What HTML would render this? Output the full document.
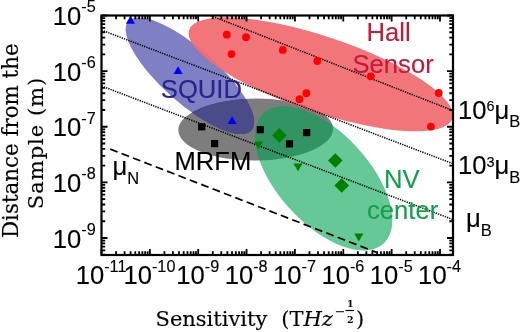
<!DOCTYPE html>
<html><head><meta charset="utf-8"><title>Sensitivity vs distance</title>
<style>html,body{margin:0;padding:0;background:#fff}svg{display:block}.s{font-family:"Liberation Sans",sans-serif}.r{font-family:"DejaVu Serif","Liberation Serif",serif}</style></head><body>
<svg width="520" height="332" viewBox="0 0 520 332">
<rect width="520" height="332" fill="#fff"/>
<defs><clipPath id="cp"><rect x="101.5" y="15.5" width="351.5" height="239.5"/></clipPath></defs>
<g clip-path="url(#cp)">
<ellipse cx="255.7" cy="129.6" rx="77.4" ry="31.0" transform="rotate(-0.5 255.7 129.6)" fill="#000" fill-opacity="0.51"/>
<ellipse cx="189.9" cy="75.8" rx="82.3" ry="27.5" transform="rotate(41.5 189.9 75.8)" fill="#000087" fill-opacity="0.5"/>
<clipPath id="cg"><ellipse cx="255.7" cy="129.6" rx="77.4" ry="31.0" transform="rotate(-0.5 255.7 129.6)"/></clipPath>
<g clip-path="url(#cg)"><ellipse cx="189.9" cy="75.8" rx="82.3" ry="27.5" transform="rotate(41.5 189.9 75.8)" fill="#4b4b8a"/></g>
<ellipse cx="320.8" cy="74.3" rx="138.9" ry="37.75" transform="rotate(18.6 320.8 74.3)" fill="#f16c72" fill-opacity="0.94"/>
<ellipse cx="323.6" cy="178.3" rx="88.7" ry="45.5" transform="rotate(47.4 323.6 178.3)" fill="#00a350" fill-opacity="0.6"/>
<line x1="210.50" y1="15.50" x2="453.00" y2="110.60" stroke="#000" stroke-width="1.5" stroke-dasharray="1.3 1.1"/>
<line x1="101.50" y1="30.10" x2="453.00" y2="163.70" stroke="#000" stroke-width="1.5" stroke-dasharray="1.3 1.1"/>
<line x1="101.50" y1="86.00" x2="453.00" y2="219.60" stroke="#000" stroke-width="1.5" stroke-dasharray="1.3 1.1"/>
<line x1="110.20" y1="149.10" x2="376.57" y2="252.40" stroke="#000" stroke-width="1.7" stroke-dasharray="7.9 4.3"/>
<circle cx="226.8" cy="34.7" r="3.9" fill="#f00"/>
<circle cx="246" cy="37.2" r="3.9" fill="#f00"/>
<circle cx="231.5" cy="54.1" r="3.9" fill="#f00"/>
<circle cx="282.8" cy="49.9" r="3.9" fill="#f00"/>
<circle cx="317.3" cy="61" r="3.9" fill="#f00"/>
<circle cx="306.4" cy="93.2" r="3.9" fill="#f00"/>
<circle cx="299.5" cy="99.2" r="3.9" fill="#f00"/>
<circle cx="370.8" cy="76.3" r="3.9" fill="#f00"/>
<circle cx="438.7" cy="93" r="3.9" fill="#f00"/>
<circle cx="430.9" cy="126.6" r="3.9" fill="#f00"/>
<polygon points="125.9,23.700000000000003 135.1,23.700000000000003 130.5,15.9" fill="#00f"/>
<polygon points="173.5,74.10000000000001 182.7,74.10000000000001 178.1,66.3" fill="#00f"/>
<polygon points="227.5,124.0 236.7,124.0 232.1,116.19999999999999" fill="#00f"/>
<rect x="198.1" y="123.2" width="7.2" height="7.2" fill="#000"/>
<rect x="211.0" y="140.0" width="7.2" height="7.2" fill="#000"/>
<rect x="256.7" y="126.1" width="7.2" height="7.2" fill="#000"/>
<rect x="285.9" y="140.3" width="7.2" height="7.2" fill="#000"/>
<rect x="303.09999999999997" y="129.0" width="7.2" height="7.2" fill="#000"/>
<polygon points="272.09999999999997,135.4 279.4,128.1 286.7,135.4 279.4,142.70000000000002" fill="#008000"/>
<polygon points="328.0,160.5 335.3,153.2 342.6,160.5 335.3,167.8" fill="#008000"/>
<polygon points="334.4,185.5 341.7,178.2 349.0,185.5 341.7,192.8" fill="#008000"/>
<polygon points="254.00000000000003,141.5 263.20000000000005,141.5 258.6,149.3" fill="#008000"/>
<polygon points="293.4,163.4 302.6,163.4 298,171.20000000000002" fill="#008000"/>
<polygon points="354.2,233.6 363.40000000000003,233.6 358.8,241.4" fill="#008000"/>
</g>
<path d="M101.50 255.0v-6.0M101.50 15.5v6.0M116.06 255.0v-3.7M116.06 15.5v3.7M124.57 255.0v-3.7M124.57 15.5v3.7M130.61 255.0v-3.7M130.61 15.5v3.7M135.30 255.0v-3.7M135.30 15.5v3.7M139.13 255.0v-3.7M139.13 15.5v3.7M142.37 255.0v-3.7M142.37 15.5v3.7M145.17 255.0v-3.7M145.17 15.5v3.7M147.64 255.0v-3.7M147.64 15.5v3.7M149.86 255.0v-6.0M149.86 15.5v6.0M164.41 255.0v-3.7M164.41 15.5v3.7M172.93 255.0v-3.7M172.93 15.5v3.7M178.97 255.0v-3.7M178.97 15.5v3.7M183.66 255.0v-3.7M183.66 15.5v3.7M187.49 255.0v-3.7M187.49 15.5v3.7M190.72 255.0v-3.7M190.72 15.5v3.7M193.53 255.0v-3.7M193.53 15.5v3.7M196.00 255.0v-3.7M196.00 15.5v3.7M198.21 255.0v-6.0M198.21 15.5v6.0M212.77 255.0v-3.7M212.77 15.5v3.7M221.29 255.0v-3.7M221.29 15.5v3.7M227.33 255.0v-3.7M227.33 15.5v3.7M232.01 255.0v-3.7M232.01 15.5v3.7M235.84 255.0v-3.7M235.84 15.5v3.7M239.08 255.0v-3.7M239.08 15.5v3.7M241.89 255.0v-3.7M241.89 15.5v3.7M244.36 255.0v-3.7M244.36 15.5v3.7M246.57 255.0v-6.0M246.57 15.5v6.0M261.13 255.0v-3.7M261.13 15.5v3.7M269.64 255.0v-3.7M269.64 15.5v3.7M275.69 255.0v-3.7M275.69 15.5v3.7M280.37 255.0v-3.7M280.37 15.5v3.7M284.20 255.0v-3.7M284.20 15.5v3.7M287.44 255.0v-3.7M287.44 15.5v3.7M290.24 255.0v-3.7M290.24 15.5v3.7M292.72 255.0v-3.7M292.72 15.5v3.7M294.93 255.0v-6.0M294.93 15.5v6.0M309.49 255.0v-3.7M309.49 15.5v3.7M318.00 255.0v-3.7M318.00 15.5v3.7M324.04 255.0v-3.7M324.04 15.5v3.7M328.73 255.0v-3.7M328.73 15.5v3.7M332.56 255.0v-3.7M332.56 15.5v3.7M335.80 255.0v-3.7M335.80 15.5v3.7M338.60 255.0v-3.7M338.60 15.5v3.7M341.07 255.0v-3.7M341.07 15.5v3.7M343.29 255.0v-6.0M343.29 15.5v6.0M357.84 255.0v-3.7M357.84 15.5v3.7M366.36 255.0v-3.7M366.36 15.5v3.7M372.40 255.0v-3.7M372.40 15.5v3.7M377.09 255.0v-3.7M377.09 15.5v3.7M380.91 255.0v-3.7M380.91 15.5v3.7M384.15 255.0v-3.7M384.15 15.5v3.7M386.96 255.0v-3.7M386.96 15.5v3.7M389.43 255.0v-3.7M389.43 15.5v3.7M391.64 255.0v-6.0M391.64 15.5v6.0M406.20 255.0v-3.7M406.20 15.5v3.7M414.72 255.0v-3.7M414.72 15.5v3.7M420.76 255.0v-3.7M420.76 15.5v3.7M425.44 255.0v-3.7M425.44 15.5v3.7M429.27 255.0v-3.7M429.27 15.5v3.7M432.51 255.0v-3.7M432.51 15.5v3.7M435.31 255.0v-3.7M435.31 15.5v3.7M437.79 255.0v-3.7M437.79 15.5v3.7M440.00 255.0v-6.0M440.00 15.5v6.0M101.5 254.74h3.7M453.0 254.74h-3.7M101.5 250.34h3.7M453.0 250.34h-3.7M101.5 246.62h3.7M453.0 246.62h-3.7M101.5 243.39h3.7M453.0 243.39h-3.7M101.5 240.55h3.7M453.0 240.55h-3.7M101.5 238.00h6.0M453.0 238.00h-6.0M101.5 221.26h3.7M453.0 221.26h-3.7M101.5 211.46h3.7M453.0 211.46h-3.7M101.5 204.51h3.7M453.0 204.51h-3.7M101.5 199.12h3.7M453.0 199.12h-3.7M101.5 194.72h3.7M453.0 194.72h-3.7M101.5 190.99h3.7M453.0 190.99h-3.7M101.5 187.77h3.7M453.0 187.77h-3.7M101.5 184.92h3.7M453.0 184.92h-3.7M101.5 182.38h6.0M453.0 182.38h-6.0M101.5 165.63h3.7M453.0 165.63h-3.7M101.5 155.84h3.7M453.0 155.84h-3.7M101.5 148.89h3.7M453.0 148.89h-3.7M101.5 143.49h3.7M453.0 143.49h-3.7M101.5 139.09h3.7M453.0 139.09h-3.7M101.5 135.37h3.7M453.0 135.37h-3.7M101.5 132.14h3.7M453.0 132.14h-3.7M101.5 129.30h3.7M453.0 129.30h-3.7M101.5 126.75h6.0M453.0 126.75h-6.0M101.5 110.01h3.7M453.0 110.01h-3.7M101.5 100.21h3.7M453.0 100.21h-3.7M101.5 93.26h3.7M453.0 93.26h-3.7M101.5 87.87h3.7M453.0 87.87h-3.7M101.5 83.47h3.7M453.0 83.47h-3.7M101.5 79.74h3.7M453.0 79.74h-3.7M101.5 76.52h3.7M453.0 76.52h-3.7M101.5 73.67h3.7M453.0 73.67h-3.7M101.5 71.12h6.0M453.0 71.12h-6.0M101.5 54.38h3.7M453.0 54.38h-3.7M101.5 44.59h3.7M453.0 44.59h-3.7M101.5 37.64h3.7M453.0 37.64h-3.7M101.5 32.24h3.7M453.0 32.24h-3.7M101.5 27.84h3.7M453.0 27.84h-3.7M101.5 24.12h3.7M453.0 24.12h-3.7M101.5 20.89h3.7M453.0 20.89h-3.7M101.5 18.05h3.7M453.0 18.05h-3.7M101.5 15.50h6.0M453.0 15.50h-6.0" stroke="#000" stroke-width="1.8" fill="none"/>
<rect x="101.5" y="15.5" width="351.5" height="239.5" fill="none" stroke="#000" stroke-width="2.2"/>
<text class="s" transform="translate(52.8 247.6) scale(1.03 1)" font-size="24.9" text-anchor="start" fill="#000" stroke="#000" stroke-width="0.12">10<tspan font-size="15.8" dy="-12.8">-9</tspan></text>
<text class="s" transform="translate(52.8 191.975) scale(1.03 1)" font-size="24.9" text-anchor="start" fill="#000" stroke="#000" stroke-width="0.12">10<tspan font-size="15.8" dy="-12.8">-8</tspan></text>
<text class="s" transform="translate(52.8 136.35) scale(1.03 1)" font-size="24.9" text-anchor="start" fill="#000" stroke="#000" stroke-width="0.12">10<tspan font-size="15.8" dy="-12.8">-7</tspan></text>
<text class="s" transform="translate(52.8 80.725) scale(1.03 1)" font-size="24.9" text-anchor="start" fill="#000" stroke="#000" stroke-width="0.12">10<tspan font-size="15.8" dy="-12.8">-6</tspan></text>
<text class="s" transform="translate(52.8 25.1) scale(1.03 1)" font-size="24.9" text-anchor="start" fill="#000" stroke="#000" stroke-width="0.12">10<tspan font-size="15.8" dy="-12.8">-5</tspan></text>
<text class="s" transform="translate(101.1 283.6) scale(1.03 1)" font-size="24.9" text-anchor="middle" fill="#000" stroke="#000" stroke-width="0.12">10<tspan font-size="15.8" dy="-11.8">-11</tspan></text>
<text class="s" transform="translate(149.45714285714286 283.6) scale(1.03 1)" font-size="24.9" text-anchor="middle" fill="#000" stroke="#000" stroke-width="0.12">10<tspan font-size="15.8" dy="-11.8">-10</tspan></text>
<text class="s" transform="translate(197.81428571428572 283.6) scale(1.03 1)" font-size="24.9" text-anchor="middle" fill="#000" stroke="#000" stroke-width="0.12">10<tspan font-size="15.8" dy="-11.8">-9</tspan></text>
<text class="s" transform="translate(246.17142857142855 283.6) scale(1.03 1)" font-size="24.9" text-anchor="middle" fill="#000" stroke="#000" stroke-width="0.12">10<tspan font-size="15.8" dy="-11.8">-8</tspan></text>
<text class="s" transform="translate(294.52857142857147 283.6) scale(1.03 1)" font-size="24.9" text-anchor="middle" fill="#000" stroke="#000" stroke-width="0.12">10<tspan font-size="15.8" dy="-11.8">-7</tspan></text>
<text class="s" transform="translate(342.8857142857143 283.6) scale(1.03 1)" font-size="24.9" text-anchor="middle" fill="#000" stroke="#000" stroke-width="0.12">10<tspan font-size="15.8" dy="-11.8">-6</tspan></text>
<text class="s" transform="translate(391.24285714285713 283.6) scale(1.03 1)" font-size="24.9" text-anchor="middle" fill="#000" stroke="#000" stroke-width="0.12">10<tspan font-size="15.8" dy="-11.8">-5</tspan></text>
<text class="s" transform="translate(439.6 283.6) scale(1.03 1)" font-size="24.9" text-anchor="middle" fill="#000" stroke="#000" stroke-width="0.12">10<tspan font-size="15.8" dy="-11.8">-4</tspan></text>
<text class="s" transform="translate(458.0 118.7) scale(1.03 1)" font-size="24.9" text-anchor="start" fill="#000" stroke="#000" stroke-width="0.12">10<tspan font-size="14" dy="-7.4">6</tspan><tspan font-size="24.9" dy="7.4">μ</tspan><tspan font-size="16" dy="8.7">B</tspan></text>
<text class="s" transform="translate(458.0 174.4) scale(1.03 1)" font-size="24.9" text-anchor="start" fill="#000" stroke="#000" stroke-width="0.12">10<tspan font-size="14" dy="-7.4">3</tspan><tspan font-size="24.9" dy="7.4">μ</tspan><tspan font-size="16" dy="8.7">B</tspan></text>
<text class="s" transform="translate(466.0 227.2) scale(1.03 1)" font-size="24.9" text-anchor="start" fill="#000" stroke="#000" stroke-width="0.12">μ<tspan font-size="16" dy="8.7">B</tspan></text>
<text class="s" transform="translate(112.4 174.9) scale(1.03 1)" font-size="24.9" text-anchor="start" fill="#000" stroke="#000" stroke-width="0.12">μ<tspan font-size="16" dy="8.7">N</tspan></text>
<text class="s" transform="translate(366.5 41.2) scale(1.03 1)" font-size="24.9" text-anchor="start" fill="#c21a3a" stroke="#c21a3a" stroke-width="0.12">Hall</text>
<text class="s" transform="translate(352.5 73.2) scale(1.03 1)" font-size="24.9" text-anchor="start" fill="#c21a3a" stroke="#c21a3a" stroke-width="0.12">Sensor</text>
<text class="s" transform="translate(160.8 97.5) scale(1.03 1)" font-size="24.9" text-anchor="start" fill="#26248e" stroke="#26248e" stroke-width="0.12">SQUID</text>
<text class="s" transform="translate(174.5 170.1) scale(1.03 1)" font-size="24.9" text-anchor="start" fill="#000" stroke="#000" stroke-width="0.12">MRFM</text>
<text class="s" transform="translate(384 187.8) scale(1.03 1)" font-size="24.9" text-anchor="start" fill="#12a04e" stroke="#12a04e" stroke-width="0.12">NV</text>
<text class="s" transform="translate(367 218.7) scale(1.03 1)" font-size="24.9" text-anchor="start" fill="#12a04e" stroke="#12a04e" stroke-width="0.12">center</text>
<text class="r" transform="translate(155.5 325.6) scale(1 1)" font-size="21" text-anchor="start" fill="#000" stroke="#000" stroke-width="0.15">Sensitivity<tspan dx="14"> </tspan><tspan dx="-6.8">(T</tspan><tspan font-style="italic">Hz</tspan></text>
<text class="r" transform="translate(334.8 315.6) scale(1 1)" font-size="13" text-anchor="start" fill="#000" stroke="#000" stroke-width="0">−</text>
<text class="r" transform="translate(350.2 306.6) scale(1 1)" font-size="9.5" text-anchor="middle" fill="#000" stroke="#000" stroke-width="0" font-weight="bold">1</text>
<rect x="345.6" y="309.9" width="8.6" height="1.2" fill="#000"/>
<text class="r" transform="translate(350.2 323) scale(1 1)" font-size="9.5" text-anchor="middle" fill="#000" stroke="#000" stroke-width="0" font-weight="bold">2</text>
<text class="r" transform="translate(356 325.6) scale(1 1)" font-size="21" text-anchor="start" fill="#000" stroke="#000" stroke-width="0.15">)</text>
<text class="r" transform="translate(17.8 140.7) rotate(-90)" font-size="21.4" text-anchor="middle" fill="#000" stroke="#000" stroke-width="0.15">Distance from the</text>
<text class="r" transform="translate(43.4 143) rotate(-90)" font-size="21" text-anchor="middle" letter-spacing="1.0" fill="#000" stroke="#000" stroke-width="0.15">Sample (m)</text>
</svg></body></html>
